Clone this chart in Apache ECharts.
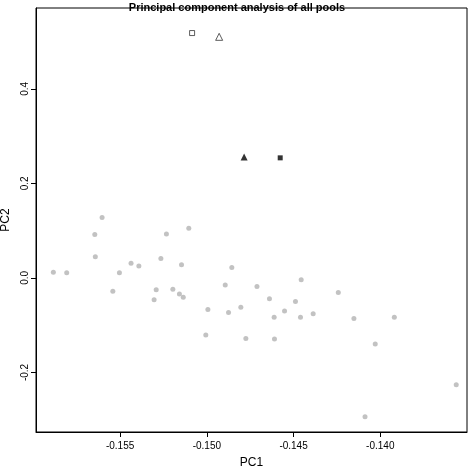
<!DOCTYPE html>
<html><head><meta charset="utf-8">
<script src="https://cdn.jsdelivr.net/npm/echarts@6/dist/echarts.min.js"></script>
<style>html,body{margin:0;padding:0;background:#fff}#c{width:474px;height:470px}</style>
</head><body><div id="c"></div>
<script>
const pc1 = [-0.15885,-0.15808,-0.15604,-0.15646,-0.15643,-0.15542,-0.15504,-0.15437,-0.15392,-0.15265,-0.15233,-0.15104,-0.15146,-0.15292,-0.15304,-0.15196,-0.15158,-0.15136,-0.14994,-0.15006,-0.14894,-0.14856,-0.14875,-0.14804,-0.14775,-0.14711,-0.14456,-0.14639,-0.14489,-0.14552,-0.14612,-0.1446,-0.14387,-0.14242,-0.14152,-0.13919,-0.14029,-0.1461,-0.13562,-0.14088];
const pc2 = [0.012,0.011,0.128,0.092,0.045,-0.028,0.011,0.031,0.025,0.041,0.093,0.105,0.028,-0.025,-0.046,-0.024,-0.034,-0.041,-0.067,-0.121,-0.015,0.022,-0.073,-0.062,-0.128,-0.018,-0.004,-0.044,-0.050,-0.070,-0.083,-0.083,-0.076,-0.031,-0.086,-0.083,-0.140,-0.129,-0.226,-0.294];
const openSquare = [-0.15085, 0.518];
const openTriangle = [-0.14929, 0.510];
const filledTriangle = [-0.14785, 0.256];
const filledSquare = [-0.14577, 0.254];
const xTicks = [-0.155,-0.150,-0.145,-0.140];
const yTicks = [-0.2,0.0,0.2,0.4];

const font = 'Liberation Sans';
const X0=-0.15985, X1=-0.135, Y0=-0.326, Y1=0.571;
const L=36,R=7,T=8,B=38, W=474-L-R, H=470-T-B;
const sx=W/(X1-X0), sy=H/(Y1-Y0);
const xt0=xTicks[0], xt1=xTicks[xTicks.length-1], yt0=yTicks[0], yt1=yTicks[yTicks.length-1];
const hid={show:false};
const line={show:true,onZero:false,lineStyle:{color:'#000',width:1}};
const chart = echarts.init(document.getElementById('c'));
chart.setOption({
  animation:false,
  title:{text:'Principal component analysis of all pools',left:'center',top:-3,
    textStyle:{fontFamily:font,fontSize:11,fontWeight:'bold',color:'#000'}},
  grid:[
    {left:L,right:R,top:T,bottom:B,show:true,borderColor:'#000',borderWidth:1,outerBoundsMode:'none',containLabel:false},
    {left:L+(xt0-X0)*sx,right:474-(L+(xt1-X0)*sx),top:T,bottom:B,outerBoundsMode:'none',containLabel:false},
    {left:L,right:R,top:T+(Y1-yt1)*sy,bottom:470-(T+(Y1-yt0)*sy),outerBoundsMode:'none',containLabel:false}
  ],
  xAxis:[
    {type:'value',gridIndex:0,min:X0,max:X1,
    name:'PC1',nameLocation:'middle',nameGap:25,nameTextStyle:{fontFamily:font,fontSize:12,color:'#000'},
    axisLine:line,splitLine:hid,axisTick:hid,
    axisLabel:{fontFamily:font,fontSize:10,color:'#000',margin:9,customValues:xTicks,formatter:v=>v.toFixed(3)}},
    {type:'value',gridIndex:1,min:xt0,max:xt1,interval:0.005,axisLine:line,splitLine:hid,axisLabel:hid,
     axisTick:{show:true,length:5,lineStyle:{color:'#000'}}},
    {type:'value',gridIndex:2,show:false}
  ],
  yAxis:[
    {type:'value',gridIndex:0,min:Y0,max:Y1,
    name:'PC2',nameLocation:'middle',nameGap:22,nameRotate:90,nameTextStyle:{fontFamily:font,fontSize:12,color:'#000'},
    axisLine:line,splitLine:hid,axisTick:hid,
    axisLabel:{fontFamily:font,fontSize:10,color:'#000',rotate:90,margin:6,customValues:yTicks,formatter:v=>v.toFixed(1)}},
    {type:'value',gridIndex:1,show:false},
    {type:'value',gridIndex:2,min:yt0,max:yt1,interval:0.2,axisLine:line,splitLine:hid,axisLabel:hid,
     axisTick:{show:true,length:5,lineStyle:{color:'#000'}}}
  ],
  series:[
    {type:'scatter',data:pc1.map((x,i)=>[x,pc2[i]]),symbol:'circle',symbolSize:5,itemStyle:{color:'#b3b3b3'}},
    {type:'scatter',data:[openSquare],symbol:'rect',symbolSize:5,itemStyle:{color:'#fff',borderColor:'#000',borderWidth:0.8}},
    {type:'scatter',data:[openTriangle],symbol:'triangle',symbolSize:7,itemStyle:{color:'#fff',borderColor:'#000',borderWidth:0.8}},
    {type:'scatter',data:[filledTriangle],symbol:'triangle',symbolSize:7,itemStyle:{color:'#000'}},
    {type:'scatter',data:[filledSquare],symbol:'rect',symbolSize:5,itemStyle:{color:'#000'}}
  ]
});
</script></body></html>
